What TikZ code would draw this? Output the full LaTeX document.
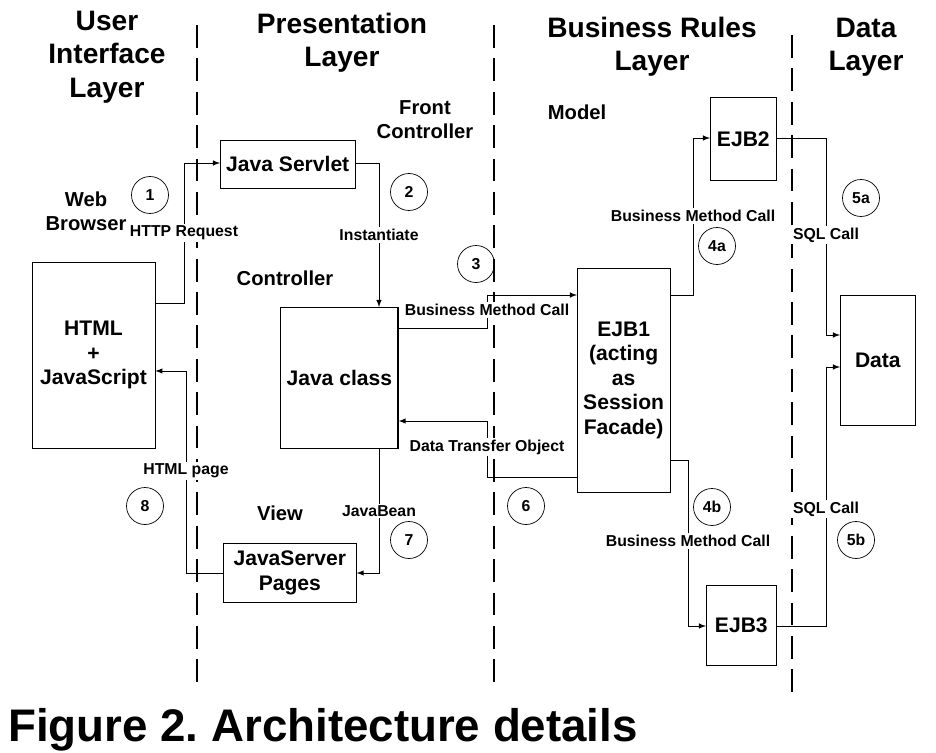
\documentclass[tikz,border=0pt]{standalone}
\usepackage{fontspec}
\setmainfont{Liberation Sans}
\usetikzlibrary{positioning}
\tikzset{
box/.style={draw, align=center, font=\bfseries\fontsize{12}{14}\selectfont},
head/.style={align=center, font=\bfseries\fontsize{16}{19}\selectfont},
sub/.style={align=center, font=\bfseries\fontsize{11.5}{13.5}\selectfont},
lab/.style={fill=white, inner sep=1pt, font=\bfseries\fontsize{9}{10}\selectfont},
num/.style={draw, circle, minimum size=0.74cm, inner sep=0pt, font=\bfseries\fontsize{9}{10}\selectfont},
conn/.style={-latex}
}
\frenchspacing
\begin{document}
\begin{tikzpicture}[x=0.02cm, y=-0.02cm]
\useasboundingbox (0,0) rectangle (936,753);

\def \lbot{692}

% layer borders
\foreach \x/\t in {197/25, 494/25, 792/35}{
\draw [line width=1.6pt, dash pattern=on 13pt off 6pt] (\x, \t) -- (\x, \lbot);
}

% headings
\node [head] at (107,57) {User\\Interface\\Layer};
\node [head] at (342,43) {Presentation\\Layer};
\node [head] at (652,47) {Business Rules\\Layer};
\node [head] at (866,47) {Data\\Layer};

\node [sub] at (425,120) {Front\\Controller};
\node [sub] at (577,112) {Model};
\node [sub] at (86,211) {Web\\Browser};
\node [sub] at (285,278) {Controller};
\node [sub] at (280,513) {View};

% boxes
\node [box, minimum width=2.46cm, minimum height=3.72cm] (html) at (93.5,355) {HTML\\+\\JavaScript};
\node [box, minimum width=2.66cm, minimum height=0.96cm, anchor=north west] (servlet) at (220,140) {Java Servlet};
\node [box, thick, minimum width=2.32cm, minimum height=2.82cm, anchor=north west] (jclass) at (280,307) {Java class};
\node [box, minimum width=2.66cm, minimum height=1.18cm, anchor=north west] (jsp) at (223,543) {JavaServer\\Pages};
\node [box, minimum width=1.76cm, minimum height=4.48cm, anchor=north west] (ejba) at (577,268) {EJB1\\(acting\\as\\Session\\Facade)};
\node [box, minimum width=1.32cm, minimum height=1.66cm, anchor=north west] (ejbb) at (710,97) {EJB2};
\node [box, minimum width=1.40cm, minimum height=1.60cm, anchor=north west] (ejbc) at (706,585) {EJB3};
\node [box, minimum width=1.50cm, minimum height=2.60cm, anchor=north west] (data) at (840,295) {Data};

% connectors
\coordinate (p1) at (155,303);
\draw [conn] (p1) -| (184,163) -- (servlet.west |- 0,163);
\node [lab] at (184,233) {HTTP Request};

\draw [conn] (servlet.east |- 0,163) -| (jclass.north -| 379,0);
\node [lab] at (379,235) {Instantiate};

\draw [conn] (jclass.east |- 0,328) -| (487,295) -- (ejba.west |- 0,295);
\node [lab] at (487,310) {Business Method Call};

\draw [conn] (ejba.west |- 0,477) -| (487,421) -- (jclass.east |- 0,421);
\node [lab] at (487,447) {Data Transfer Object};

\draw [conn] (jclass.south -| 379,0) |- (jsp.east |- 0,573);
\node [lab] at (379,511) {JavaBean};

\draw [conn] (jsp.west |- 0,573) -| (186,371) -- (html.east |- 0,371);
\node [lab] at (186,471) {HTML page};

\draw [conn] (ejba.east |- 0,295) -| (693,138) -- (ejbb.west |- 0,138);
\node [lab] at (693,216) {Business Method Call};

\draw [conn] (ejba.east |- 0,460) -| (688,626) -- (ejbc.west |- 0,626);
\node [lab] at (688,541) {Business Method Call};

\draw [conn] (ejbb.east |- 0,138) -| (826,335) -- (data.west |- 0,335);
\node [lab] at (826,235) {SQL Call};

\draw [conn] (ejbc.east |- 0,626) -| (826,367) -- (data.west |- 0,367);
\node [lab] at (826,509) {SQL Call};

% step numbers
\foreach \n/\x/\y in {1/150/195, 2/409/192, 3/476/264, 4a/717/246, 5a/861/198, 6/526/506, 7/409/540, 4b/712/507, 5b/856/540, 8/145/506}{
\node [num] (s\n) at (\x,\y) {\n};
}

\node [anchor=west, font=\bfseries\fontsize{26}{30}\selectfont] (caption) at (2,730) {Figure 2. Architecture details};

\end{tikzpicture}
\end{document}
